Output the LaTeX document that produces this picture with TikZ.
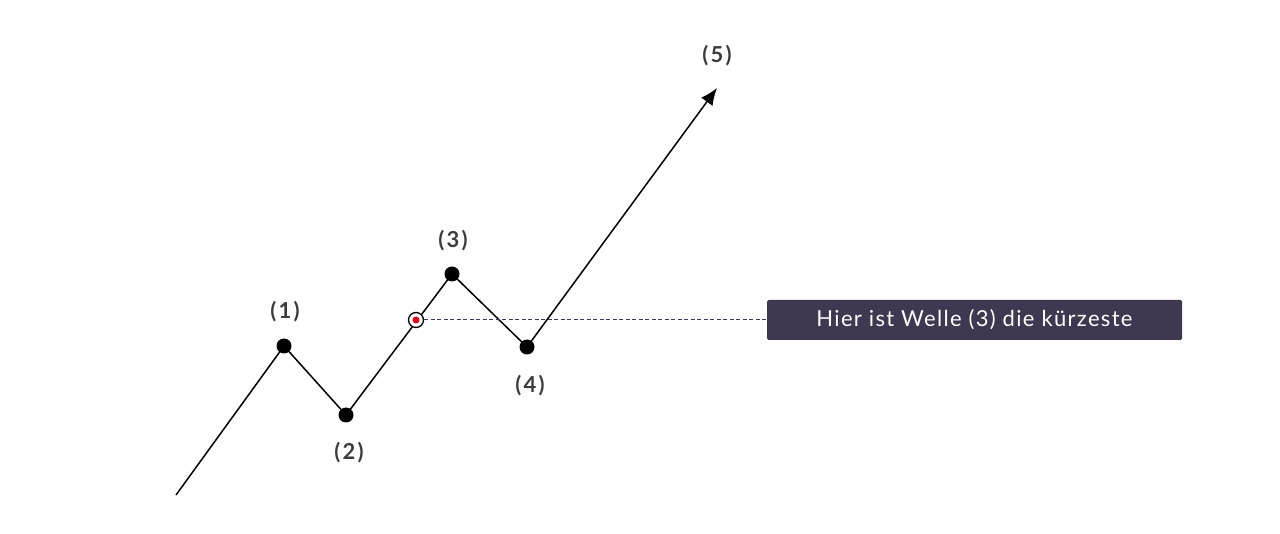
\documentclass[tikz,border=0pt]{standalone}
\usepackage{fontspec}
\setmainfont{Lato}
\newfontfamily\labfont[LetterSpace=10]{Lato}
\newfontfamily\boxfont[LetterSpace=6]{Lato}
\usetikzlibrary{arrows.meta}
\definecolor{boxcol}{HTML}{3F3850}
\definecolor{labcol}{HTML}{3C3C3C}
\definecolor{reddot}{HTML}{E0001B}
\tikzset{
  wave/.style={line width=1.5pt, black},
  pt/.style={circle, fill=black, inner sep=0pt, minimum size=15pt},
  lab/.style={font=\labfont\fontsize{22}{26}\selectfont\bfseries, text=labcol},
}
\begin{document}
\begin{tikzpicture}[x=1pt,y=-1pt]
\useasboundingbox (0,0) rectangle (1280,534);
\coordinate (s) at (176,495);
\node[pt] (p1) at (284,346) {};
\node[pt] (p2) at (346,415) {};
\node[pt] (p3) at (452,274) {};
\node[pt] (p4) at (527,347) {};
\coordinate (p5) at (717,88);
\draw[wave] (s) -- (p1.center) -- (p2.center) -- (p3.center) -- (p4.center);
\draw[wave, -{Latex[length=17pt,width=14pt]}] (p4.center) -- (p5);
\node[lab] (l1) at (285,312) {(1)};
\node[lab] (l2) at (349,453) {(2)};
\node[lab] (l3) at (453,241) {(3)};
\node[lab] (l4) at (530,386) {(4)};
\node[lab] (l5) at (717,56) {(5)};
\node[fill=boxcol, rounded corners=1.5pt, minimum width=415pt, minimum height=40pt, text=white, font=\boxfont\fontsize{22}{26}\selectfont] (box) at (974.5,320) {Hier ist Welle (3) die kürzeste};
\node[circle, draw=black, line width=1.3pt, fill=white, minimum size=15pt, inner sep=0pt] (rd) at (416,320) {};
\fill[reddot] (rd.center) circle (3.5pt);
\draw[dashed, line width=1pt, boxcol, dash pattern=on 4pt off 2.5pt] (rd.east) -- (box.west);
\end{tikzpicture}
\end{document}
